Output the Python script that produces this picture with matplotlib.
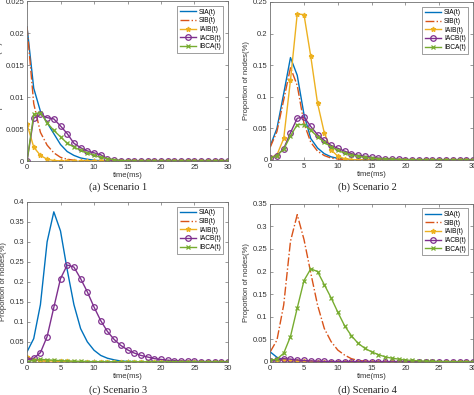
import matplotlib
matplotlib.use("Agg")
import matplotlib.pyplot as plt

t = list(range(31))
series_names = ["SIA(t)", "SIB(t)", "IAIB(t)", "IACB(t)", "IBCA(t)"]
captions = [("(a)", "Scenario 1"), ("(b)", "Scenario 2"), ("(c)", "Scenario 3"), ("(d)", "Scenario 4")]
ylims = [0.025, 0.25, 0.4, 0.35]
yticks_a = [0, 0.005, 0.01, 0.015, 0.02, 0.025]
yticks_b = [0, 0.05, 0.1, 0.15, 0.2, 0.25]
yticks_c = [0, 0.05, 0.1, 0.15, 0.2, 0.25, 0.3, 0.35, 0.4]
yticks_d = [0, 0.05, 0.1, 0.15, 0.2, 0.25, 0.3, 0.35]
xticks = [0, 5, 10, 15, 20, 25, 30]

# Scenario 1
SIA_a = [0.021, 0.0114, 0.0078, 0.0060, 0.0043, 0.0026, 0.0015, 0.0009, 0.0005, 0.0003, 0.00015, 0.00008, 0.00004, 0.00002, 0.00001] + [0] * 16
SIB_a = [0.021, 0.0090, 0.0045, 0.0025, 0.0013, 0.0006, 0.0003, 0.00015, 0.00007, 0.00003] + [0] * 21
IAIB_a = [0.0058, 0.0022, 0.0009, 0.0003, 0.0001, 0.00005] + [0] * 25
IACB_a = [0, 0.0067, 0.0073, 0.0068, 0.0066, 0.0055, 0.0043, 0.0028, 0.0021, 0.0016, 0.0013, 0.0010, 0.0004, 0.0002, 0.0001, 0.00005] + [0] * 15
IBCA_a = [0, 0.0073, 0.0076, 0.0060, 0.0048, 0.0038, 0.0028, 0.0022, 0.0017, 0.0013, 0.0009, 0.0006, 0.0004, 0.0002, 0.0001, 0.00005] + [0] * 15

# Scenario 2
SIA_b = [0.022, 0.050, 0.105, 0.162, 0.134, 0.072, 0.034, 0.019, 0.010, 0.005, 0.0025, 0.0012, 0.0006, 0.0003, 0.0001] + [0] * 16
SIB_b = [0.020, 0.045, 0.095, 0.146, 0.118, 0.058, 0.028, 0.014, 0.007, 0.003, 0.0015, 0.0007, 0.0003, 0.0001] + [0] * 17
IAIB_b = [0.004, 0.008, 0.034, 0.126, 0.231, 0.230, 0.164, 0.090, 0.043, 0.016, 0.006, 0.002, 0.0007, 0.0002] + [0] * 17
IACB_b = [0.003, 0.007, 0.018, 0.043, 0.066, 0.068, 0.053, 0.040, 0.031, 0.023, 0.0185, 0.014, 0.010, 0.0074, 0.0058, 0.0042, 0.003, 0.0021, 0.0015, 0.001, 0.0007, 0.0005, 0.0003, 0.0002, 0.0001] + [0] * 6
IBCA_b = [0.003, 0.007, 0.017, 0.038, 0.056, 0.056, 0.047, 0.037, 0.028, 0.021, 0.015, 0.011, 0.008, 0.006, 0.004, 0.003, 0.002, 0.0015, 0.001, 0.0007, 0.0005, 0.0003, 0.0002, 0.0001] + [0] * 7

# Scenario 3
SIA_c = [0.025, 0.058, 0.143, 0.300, 0.375, 0.327, 0.230, 0.143, 0.083, 0.050, 0.029, 0.016, 0.009, 0.005, 0.002, 0.001, 0.0005] + [0] * 14
SIB_c = [0.012, 0.006, 0.003, 0.0015, 0.0008, 0.0004, 0.0002, 0.0001] + [0] * 23
IAIB_c = [0.012, 0.004, 0.003, 0.0025, 0.002, 0.0015, 0.001, 0.0008, 0.0006, 0.0004, 0.0003, 0.0002, 0.0001] + [0] * 18
IACB_c = [0.005, 0.009, 0.023, 0.063, 0.136, 0.208, 0.242, 0.237, 0.208, 0.175, 0.137, 0.103, 0.076, 0.056, 0.041, 0.030, 0.022, 0.016, 0.012, 0.008, 0.006, 0.004, 0.003, 0.002, 0.0015, 0.001, 0.0007, 0.0005, 0.0003, 0.0002, 0.0001]
IBCA_c = [0, 0.004, 0.006, 0.005, 0.004, 0.003, 0.002, 0.0015, 0.001, 0.0007, 0.0005, 0.0003, 0.0002, 0.0001] + [0] * 17

# Scenario 4
SIA_d = [0.022, 0.010, 0.005, 0.002, 0.001, 0.0005, 0.0002, 0.0001] + [0] * 23
SIB_d = [0.022, 0.048, 0.126, 0.267, 0.326, 0.271, 0.197, 0.126, 0.074, 0.045, 0.026, 0.015, 0.007, 0.003, 0.0015, 0.0007, 0.0003, 0.0001] + [0] * 13
IAIB_d = [0.005, 0.004, 0.003, 0.002, 0.0015, 0.001, 0.0007, 0.0005, 0.0003, 0.0002, 0.0001] + [0] * 20
IACB_d = [0.002, 0.005, 0.007, 0.006, 0.004, 0.003, 0.002, 0.0015, 0.001, 0.0007, 0.0005, 0.0003, 0.0002, 0.0001] + [0] * 17
IBCA_d = [0.003, 0.006, 0.019, 0.056, 0.119, 0.180, 0.206, 0.200, 0.171, 0.142, 0.110, 0.080, 0.058, 0.041, 0.030, 0.022, 0.016, 0.011, 0.008, 0.006, 0.004, 0.003, 0.002, 0.0015, 0.001, 0.0007, 0.0005, 0.0003, 0.0002, 0.0001, 0]

panels = [
    [SIA_a, SIB_a, IAIB_a, IACB_a, IBCA_a],
    [SIA_b, SIB_b, IAIB_b, IACB_b, IBCA_b],
    [SIA_c, SIB_c, IAIB_c, IACB_c, IBCA_c],
    [SIA_d, SIB_d, IAIB_d, IACB_d, IBCA_d],
]
yticks_all = [yticks_a, yticks_b, yticks_c, yticks_d]

colors = ["#0072BD", "#D95319", "#EDB120", "#7E2F8E", "#77AC30"]
styles = [
    dict(ls="-", marker=None),
    dict(ls="-.", marker=None),
    dict(ls="-", marker="*", ms=3.5),
    dict(ls="-", marker="o", ms=4, mfc="none", mew=0.9),
    dict(ls="-", marker="x", ms=2.5, mew=0.9),
]

plt.rcParams["font.family"] = ["Liberation Sans", "DejaVu Sans"]

fig = plt.figure(figsize=(4.74, 3.95), dpi=100)
positions = [
    [0.057, 0.592, 0.424, 0.405],
    [0.570, 0.595, 0.428, 0.400],
    [0.057, 0.084, 0.424, 0.405],
    [0.570, 0.084, 0.428, 0.400],
]
cap_pos = [(0.25, 0.527), (0.775, 0.527), (0.25, 0.012), (0.775, 0.012)]
axcol = "#707070"

for i, pos in enumerate(positions):
    ax = fig.add_axes(pos)
    for j, ser in enumerate(panels[i]):
        st = dict(styles[j])
        ax.plot(t, ser, color=colors[j], lw=1.0, label=series_names[j], **st)
    ax.set_xlim(0, 30)
    ax.set_ylim(0, ylims[i])
    ax.set_xticks(xticks)
    ax.set_yticks(yticks_all[i])
    ax.set_yticklabels([("%g" % v) for v in yticks_all[i]])
    ax.tick_params(direction="in", labelsize=5.5, length=2.5, width=0.5,
                   top=True, right=True, colors=axcol, labelcolor="#333333", pad=2)
    for s in ax.spines.values():
        s.set_color(axcol)
        s.set_linewidth(0.6)
    ax.set_xlabel("time(ms)", fontsize=5.5, color="#333333", labelpad=1)
    ax.set_ylabel("Proportion of nodes(%)", fontsize=5.5, color="#333333", labelpad=2)
    leg = ax.legend(loc="upper right", fontsize=4.8, frameon=True, fancybox=False,
                    edgecolor="#555555", handlelength=2.4, handletextpad=0.5,
                    borderpad=0.4, labelspacing=0.25, borderaxespad=0.7)
    leg.get_frame().set_linewidth(0.5)
    lab, name = captions[i]
    fig.text(cap_pos[i][0], cap_pos[i][1], lab + " " + name, ha="center", va="center",
             fontsize=7.5, family=["Liberation Serif", "DejaVu Serif"], color="#222222")

fig.savefig("out.png", dpi=100)
